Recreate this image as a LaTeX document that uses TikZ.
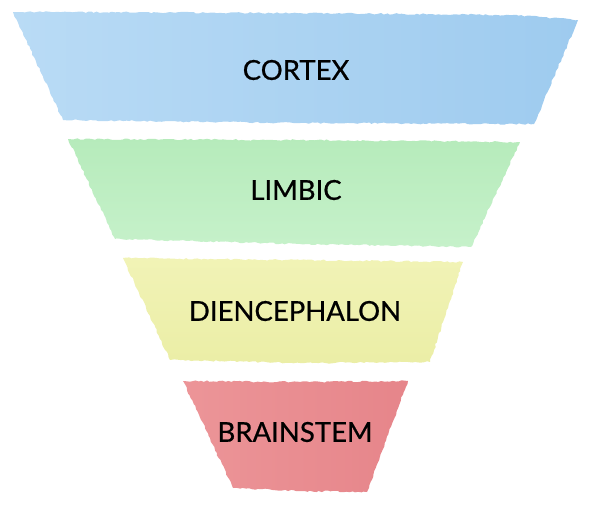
\documentclass[tikz,border=0pt]{standalone}
\usepackage{fontspec}
\setmainfont{Lato}
\newfontfamily\lblfont{Lato}[FakeBold=0.6]
\usetikzlibrary{decorations.pathmorphing}
\definecolor{bluelt}{HTML}{B9DBF5}
\definecolor{bluedk}{HTML}{9ECBEF}
\definecolor{greenlt}{HTML}{C6F1CA}
\definecolor{greendk}{HTML}{B6EBBB}
\definecolor{yellowlt}{HTML}{F1F3B6}
\definecolor{yellowdk}{HTML}{EBEEA6}
\definecolor{redlt}{HTML}{EC9598}
\definecolor{reddk}{HTML}{E6858A}
\begin{document}
\begin{tikzpicture}[x=1pt,y=-1pt,
  rough/.style={decorate,decoration={random steps,segment length=3pt,amplitude=0.8pt}},
  lbl/.style={font=\lblfont\fontsize{27.5}{32}\selectfont, text=black, inner sep=0pt}]
\useasboundingbox (0,0) rectangle (596,512);
% cortex
\shade[rough, left color=bluelt, right color=bluedk]
  (13,12) -- (300,13) -- (513,15) -- (578,20) -- (534,124) -- (300,123) -- (63,120) -- cycle;
% limbic
\shade[rough, top color=greendk, bottom color=greenlt]
  (68,139) -- (300,140) -- (520,142) -- (471,247) -- (300,244) -- (115,239) -- cycle;
% diencephalon
\shade[rough, top color=yellowlt, bottom color=yellowdk]
  (123,258) -- (300,260) -- (463,262) -- (430,362) -- (300,363) -- (170,360) -- cycle;
% brainstem
\shade[rough, left color=redlt, right color=reddk]
  (183,381) -- (300,382) -- (408,381) -- (367,492) -- (300,491) -- (233,488) -- cycle;
\node[lbl] (cortex) at (296,70) {CORTEX};
\node[lbl] (limbic) at (296,190) {LIMBIC};
\node[lbl] (dien) at (295,311) {DIENCEPHALON};
\node[lbl] (brainstem) at (295,432) {BRAINSTEM};
\end{tikzpicture}
\end{document}
